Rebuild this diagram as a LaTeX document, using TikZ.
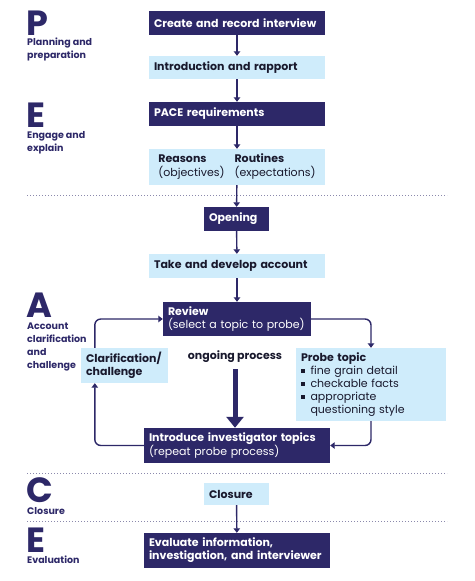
\documentclass[tikz,border=0pt]{standalone}
\usepackage{fontspec}
\setmainfont{Poppins}
\usetikzlibrary{arrows.meta}

\definecolor{navy}{RGB}{45,40,104}
\definecolor{paleblue}{RGB}{207,236,251}
\definecolor{boxtext}{RGB}{25,25,45}
\newcommand{\sqbullet}{\rule[1.5pt]{3.5pt}{3.5pt}}
\hyphenpenalty=10000
\hbadness=10000

\tikzset{
  darkbox/.style={fill=navy, text=white, inner xsep=5pt, inner ysep=2pt, align=left,
    font=\bfseries\fontsize{11}{13}\selectfont},
  lightbox/.style={fill=paleblue, text=boxtext, inner xsep=5pt, inner ysep=2pt, align=left,
    font=\fontsize{11}{13}\selectfont},
  flow/.style={draw=navy, line width=1.4pt, -{Triangle[length=4.5pt,width=6.5pt]}},
  bigflow/.style={draw=navy, line width=5pt, -{Triangle[length=11pt,width=17pt]}},
  divider/.style={draw=navy!55, line width=1pt, dash pattern=on 1pt off 2pt},
  letter/.style={text=navy, inner sep=0pt, anchor=base west, text depth=0pt,
    font=\bfseries\fontsize{35}{35}\selectfont},
  phase/.style={text=navy, inner sep=0pt, anchor=north west, align=left,
    font=\bfseries\fontsize{9.5}{13}\selectfont}
}

\begin{document}
\begin{tikzpicture}[x=1pt,y=-1pt]
\useasboundingbox[fill=white] (0,0) rectangle (474,581);
% phase dividers
\draw[divider] (27,195) -- (447,195);
\draw[divider] (27,473) -- (447,473);
\draw[divider] (27,521) -- (447,521);
% phase letters and names
\node[letter] (pletter) at (26,35) {P};
\node[phase] (pname) at (27,38) {Planning and\\preparation};
\node[letter] (eletter) at (26,127) {E};
\node[phase] (ename) at (27,131) {Engage and\\explain};
\node[letter] (aletter) at (26,317) {A};
\node[phase] (aname) at (27,322.5) {Account\\clarification\\and\\challenge};
\node[letter] (cletter) at (26,502) {C};
\node[phase] (cname) at (27,507) {Closure};
\node[letter] (evletter) at (26,552) {E};
\node[phase] (evname) at (27,556) {Evaluation};
% boxes
\node[darkbox, text width=166, minimum height=24] (create) at (237,23) {Create and record interview};
\node[lightbox, text width=166, minimum height=23] (intro) at (237,67.5) {\bfseries Introduction and rapport};
\node[darkbox, text width=166, minimum height=24] (pace) at (237,114) {PACE requirements};
\node[lightbox, minimum width=176, minimum height=36] (reasons) at (237,167)
  {\begin{tabular}{@{}l@{\hspace{10pt}}l@{}}\bfseries Reasons & \bfseries Routines\\(objectives) & (expectations)\end{tabular}};
\node[darkbox, text width=55, minimum height=24] (opening) at (236.5,219) {Opening};
\node[lightbox, text width=166, minimum height=24] (account) at (237,266) {\bfseries Take and develop account};
\node[darkbox, text width=138, minimum height=34] (review) at (237,319) {Review\\\mdseries(select a topic to probe)};
\node[lightbox, text width=77, minimum height=35] (clarif) at (124.5,365.5) {\bfseries Clarification/\\\bfseries challenge};
\node[text=boxtext, font=\bfseries\fontsize{11}{13}\selectfont] (ongoing) at (235,357) {ongoing process};
\node[lightbox, text width=140, minimum height=73] (probe) at (371,384.5)
  {\begin{tabular}{@{}l@{\hspace{6pt}}l@{}}\multicolumn{2}{@{}l@{}}{\bfseries Probe topic}\\
   \sqbullet & fine grain detail\\ \sqbullet & checkable facts\\ \sqbullet & appropriate\\ & questioning style\end{tabular}};
\node[darkbox, text width=176, minimum height=35] (introtopics) at (237,445.5) {Introduce investigator topics\\\mdseries(repeat probe process)};
\node[lightbox, text width=55, minimum height=22] (closure) at (236.5,494) {\bfseries Closure};
\node[darkbox, text width=176, minimum height=35] (evaluate) at (237,550.5) {Evaluate information,\\investigation, and interviewer};
% connectors
\draw[flow] (create) -- (intro);
\draw[flow] (intro) -- (pace);
\draw[flow] (pace) -- (reasons);
\draw[flow] (reasons) -- (opening);
\draw[flow] (opening) -- (account);
\draw[flow] (account) -- (review);
\draw[flow, rounded corners=6pt] (review.east) -| (probe.north);
\draw[flow, rounded corners=6pt] (probe.south) |- (introtopics.east);
\draw[flow, rounded corners=6pt] (introtopics.west) -| ([xshift=14pt]clarif.south west);
\draw[flow, rounded corners=6pt] ([xshift=14pt]clarif.north west) |- (review.west);
\draw[bigflow] ([yshift=-3pt]ongoing.south) -- (ongoing.south |- introtopics.north);
\draw[flow] (closure) -- (evaluate);
\end{tikzpicture}
\end{document}
